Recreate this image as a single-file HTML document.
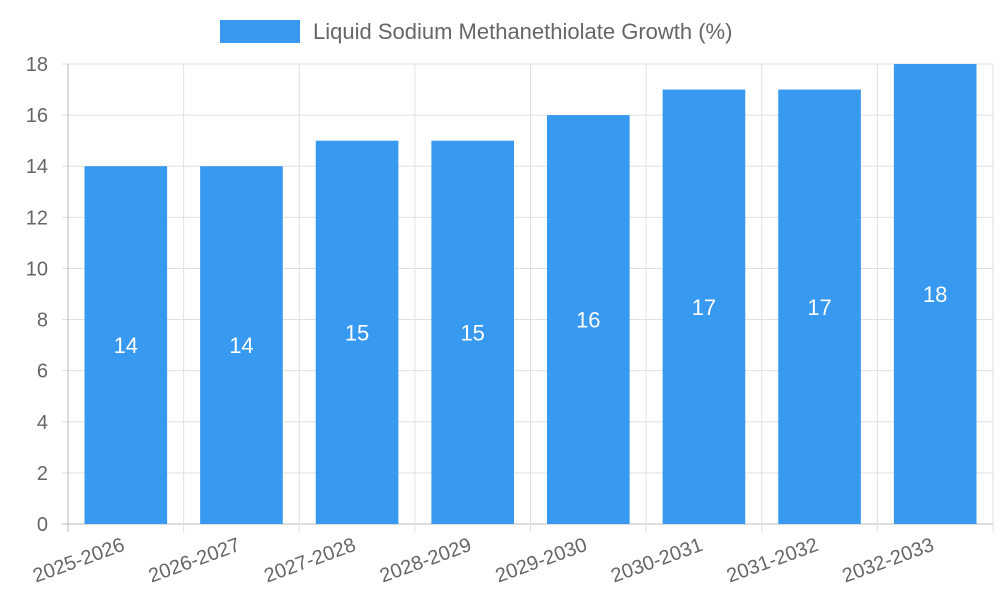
<!DOCTYPE html>
<html><head><meta charset="utf-8"><style>
body{margin:0;background:#fff;font-family:"Liberation Sans",sans-serif}
</style></head><body>
<svg id="c" width="1000" height="600" xmlns="http://www.w3.org/2000/svg" font-family="Liberation Sans, sans-serif"></svg>
<script>
const categories=["2025-2026","2026-2027","2027-2028","2028-2029","2029-2030","2030-2031","2031-2032","2032-2033"];
const values=[14,14,15,15,16,17,17,18];
const yTicks=[0,2,4,6,8,10,12,14,16,18];
const seriesName="Liquid Sodium Methanethiolate Growth (%)";
const NS="http://www.w3.org/2000/svg";
const svg=document.getElementById('c');
const L=68,R=993,T=64,B=524,yMax=18;
const bw=(R-L)/categories.length;
const y=v=>B-(v/yMax)*(B-T);
const x=i=>L+i*bw;
function mk(tag,attrs,parent){const e=document.createElementNS(NS,tag);for(const k in attrs)e.setAttribute(k,attrs[k]);(parent||svg).appendChild(e);return e;}
const grid=mk('g',{});


yTicks.forEach(t=>{
  mk('line',{x1:L-6,x2:R,y1:y(t),y2:y(t),stroke:t===0?'#bbb':'#e0e0e0','stroke-width':1},grid);
  const tx=mk('text',{x:L-20,y:y(t)+7,'text-anchor':'end','font-size':20,fill:'#666'});
  tx.textContent=t;
  
  
});
for(let i=0;i<=categories.length;i++){
  mk('line',{x1:x(i),x2:x(i),y1:T,y2:B+8,stroke:i===0?'#bbb':'#e0e0e0','stroke-width':1},grid);
}
categories.forEach((c,i)=>{
  const v=values[i];
  const bx=x(i)+16.5,w=bw-33;
  const r=mk('rect',{x:bx,y:y(v),width:w,height:B-y(v),fill:'#3799ef'});
  
  
  const vt=mk('text',{x:bx+w/2,y:(y(v)+B)/2+8,'text-anchor':'middle','font-size':22,fill:'#fff'});
  vt.textContent=v;
  
  
  const cx=x(i)+bw/2;
  const lt=mk('text',{x:cx,y:B+26,'text-anchor':'end','font-size':20,fill:'#666',transform:`rotate(-20 ${cx} ${B+26})`});
  lt.textContent=c;
  
  
});
const lg=mk('g',{});


mk('rect',{x:220,y:20,width:80,height:23,fill:'#3799ef'},lg);
const lt=mk('text',{x:313,y:39,'font-size':22,fill:'#666'},lg);
lt.textContent=seriesName;
</script>
</body></html>
